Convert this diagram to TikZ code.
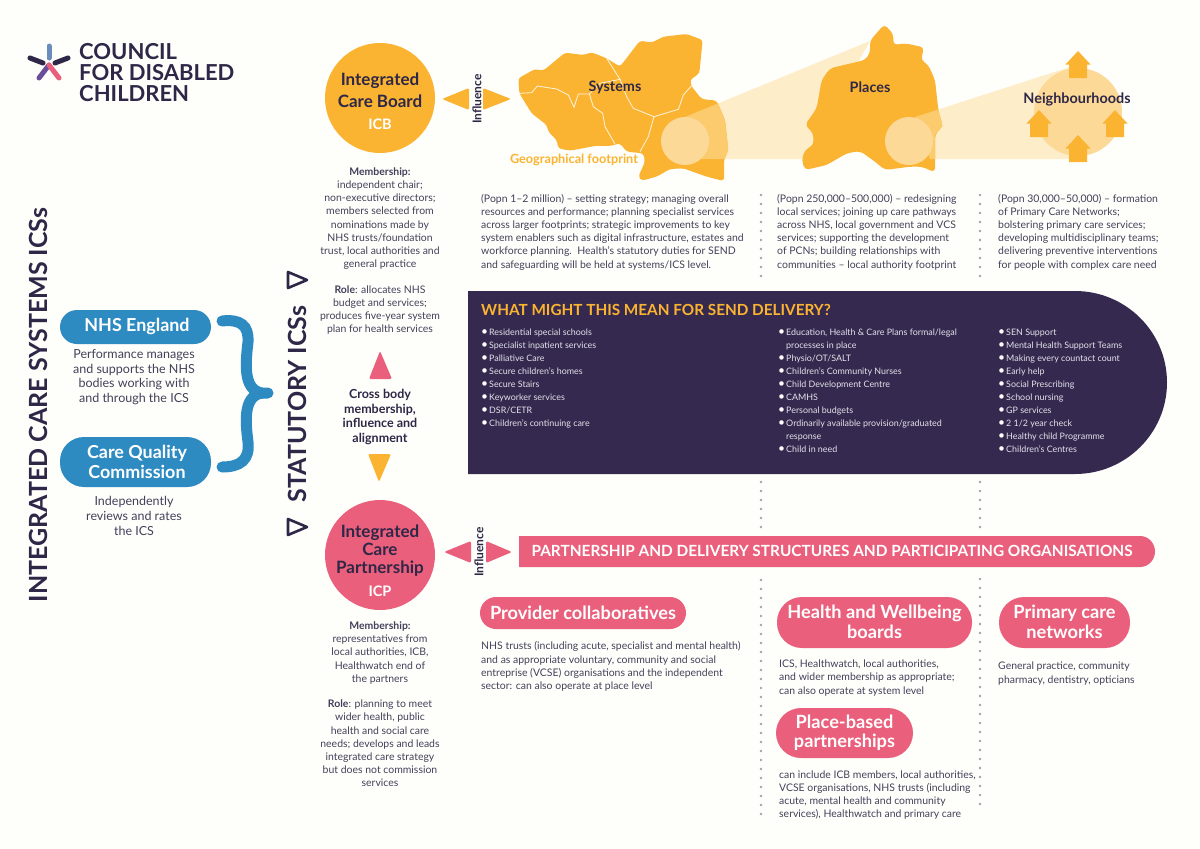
\documentclass[tikz,border=0pt]{standalone}
\usepackage{fontspec}
\setmainfont{Lato}
\definecolor{ink}{HTML}{2F2747}
\definecolor{bodyc}{HTML}{45405A}
\definecolor{orangec}{HTML}{FBB431}
\definecolor{midc}{HTML}{FCCB6E}
\definecolor{lightc}{HTML}{FDEDC9}
\definecolor{circc}{HTML}{FDD998}
\definecolor{pinkc}{HTML}{EA5F7B}
\definecolor{bluec}{HTML}{2E8BC2}
\definecolor{panelc}{HTML}{35294F}
\definecolor{dotc}{HTML}{A5A2AC}
\definecolor{listc}{HTML}{E4E2EA}
\definecolor{paperc}{HTML}{FEFEFB}
\definecolor{logoblue}{HTML}{6A8DBE}
\definecolor{logopurple}{HTML}{6B4E9B}
\newcommand{\fz}[2]{\fontsize{#1}{#2}\selectfont}
\newcommand{\bul}{\makebox[8pt][l]{\textcolor{white}{\large\textbullet}}}
\newcommand{\ind}{\hspace*{8pt}}
\tikzset{
  x=1pt,y=-1pt,
  txt/.style={inner sep=0pt,text=bodyc,font=\fz{10.45}{13.2}},
  leftblock/.style={txt,anchor=west,align=left},
  midblock/.style={txt,anchor=center,align=center},
  listblock/.style={inner sep=0pt,anchor=north west,align=left,text=listc,font=\fz{8.9}{13}},
  pilltext/.style={inner sep=0pt,text=white,font=\fz{18.2}{19.5}\bfseries,align=center},
  circtext/.style={inner sep=0pt,text=ink,font=\fz{17}{18}\bfseries,align=center},
  bigrot/.style={inner sep=0pt,text=ink,rotate=90,font=\fz{25}{27}\bfseries},
  inflabel/.style={inner sep=0pt,text=ink,rotate=90,font=\fz{12}{13}\bfseries},
  maplabel/.style={inner sep=0pt,text=ink,font=\fz{14.4}{16}\bfseries},
  tri/.style={rounded corners=1.5pt},
  pill/.style={rounded corners=#1},
  mapline/.style={white!85!orangec,line width=0.8pt},
}
\def\sysoutline{(265,175)--(315,147)--(340,152)--(405,98)--(460,105)--(485,97)--(530,115)--(570,140)--(630,62)--(665,68)--(700,50)--(770,42)--(818,60)--(808,160)--(780,180)--(785,200)--(815,237)--(860,242)--(885,300)--(895,390)--(882,420)--(882,483)--(830,470)--(760,445)--(720,447)--(680,470)--(635,482)--(625,470)--(645,425)--(640,400)--(590,395)--(570,370)--(540,378)--(500,377)--(420,392)--(385,385)--(380,360)--(355,335)--(350,315)--(305,280)--(268,220)--cycle}
\def\plaoutline{(403,13)--(430,42)--(430,75)--(465,70)--(522,82)--(513,120)--(535,135)--(555,180)--(565,270)--(578,318)--(555,345)--(555,457)--(515,440)--(480,440)--(405,450)--(375,425)--(330,393)--(290,400)--(230,435)--(165,450)--(155,420)--(165,390)--(190,375)--(190,340)--(165,315)--(200,265)--(215,180)--(240,145)--(345,120)--(360,100)--(360,62)--cycle}
\begin{document}
\begin{tikzpicture}
\useasboundingbox (0,0) rectangle (1200,849);
\fill[paperc] (0,0) rectangle (1200,849);
% logo
\begin{scope}[line width=5pt,line cap=round]
\draw[logoblue] (49,46)--(49,58);
\draw[ink] (30,58)--(43,63);
\draw[ink] (68,58)--(55,63);
\draw[logopurple] (39,78)--(49,65);
\draw[pinkc] (59,78)--(49,65);
\end{scope}
\node[inner sep=0pt,anchor=west,align=left,text=ink,font=\fz{22}{21}\bfseries] (logotext) at (79,73) {COUNCIL\\FOR DISABLED\\CHILDREN};
% side titles
\node[bigrot] (ics) at (38,405) {INTEGRATED CARE SYSTEMS ICSs};
\node[bigrot] (stat) at (297,404) {STATUTORY ICSs};
\draw[ink,line width=2.6pt,line join=round] (288,272)--(307,280)--(288,288)--cycle;
\draw[ink,line width=2.6pt,line join=round] (288,519)--(307,527)--(288,535)--cycle;
% left pills
\fill[bluec,pill=17pt] (60,310) rectangle (211,344);
\node[pilltext,font=\fz{17.9}{20}\bfseries] (nhs) at (137,326.5) {NHS England};
\fill[bluec,pill=24pt] (60,437) rectangle (211,487);
\node[pilltext,font=\fz{17.9}{20}\bfseries] (cqc) at (137,462) {Care Quality\\Commission};
\node[midblock,font=\fz{12.5}{14.6}] (nhst) at (134,377) {Performance manages\\and supports the NHS\\bodies working with\\and through the ICS};
\node[midblock,font=\fz{12.5}{14.6}] (cqct) at (134,516) {Independently\\reviews and rates\\the ICS};
\draw[bluec,line width=11pt,line cap=round] (222,321) .. controls (240,319) and (249,325) .. (248,342) .. controls (246,360) and (242,390) .. (262,393) -- (268,393);
\draw[bluec,line width=11pt,line cap=round] (262,393) .. controls (242,396) and (246,425) .. (248,442) .. controls (250,460) and (240,467) .. (222,467);
% ICB
\node[circle,fill=orangec,minimum size=110pt,inner sep=0pt] (icb) at (380,98) {};
\node[circtext] (icbt) at (380,90) {Integrated\\[4pt]Care Board};
\node[inner sep=0pt,text=white,font=\fz{14.5}{16}\bfseries] (icbs) at (380,124) {ICB};
\node[midblock] (icbm) at (380,218.5) {\textbf{Membership:}\\independent chair;\\non-executive directors;\\members selected from\\nominations made by\\NHS trusts/foundation\\trust, local authorities and\\general practice};
\node[midblock] (icbr) at (380,310) {\textbf{Role}: allocates NHS\\budget and services;\\produces five-year system\\plan for health services};
\fill[orangec,tri] (442,99)--(469,88)--(469,110)--cycle;
\fill[orangec,tri] (483,88)--(511,99)--(483,110)--cycle;
\node[inflabel] (inf1) at (477,99) {Influence};
% map cones
\fill[lightc] (685,117)--(870,41)--(803,159)--(685,159)--cycle;
\fill[lightc] (915,117)--(1070,67)--(1073,159)--(930,159)--cycle;
\begin{scope}[shift={(430,20)},scale=0.33333]
\fill[orangec,rounded corners=3pt] \sysoutline;
\begin{scope}
\clip \sysoutline;
\fill[midc] (765,291)--(1320,63)--(1119,417)--(765,417)--cycle;
\end{scope}
\draw[mapline] (268,220)--(305,218)--(322,198)--(380,207)--(415,225)--(432,262)--(445,222)--(478,222)--(490,260)--(518,280)--(525,320)--(555,372);
\draw[mapline] (530,115)--(570,178)--(510,190)--(478,222);
\draw[mapline] (570,178)--(590,230)--(610,265)--(672,290)--(745,268)--(760,225)--(785,197);
\draw[mapline] (672,290)--(655,350)--(630,395);
\end{scope}
\fill[circc] (685,141) circle[radius=24];
\begin{scope}[shift={(750,20)},scale=0.33333]
\fill[orangec,rounded corners=4pt] \plaoutline;
\begin{scope}
\clip \plaoutline;
\fill[midc] (495,291)--(960,141)--(969,417)--(540,417)--cycle;
\end{scope}
\end{scope}
\fill[circc] (909,141) circle[radius=24];
\fill[circc] (1078,112) circle[radius=44];
\foreach \hx/\hy in {1078/51,1039/110,1115/110,1078/135}{
  \fill[orangec] (\hx,\hy)--(\hx+12.5,\hy+13.5)--(\hx+9,\hy+13.5)--(\hx+9,\hy+27)--(\hx-9,\hy+27)--(\hx-9,\hy+13.5)--(\hx-12.5,\hy+13.5)--cycle;
}
\node[maplabel] (sys) at (615,87) {Systems};
\node[maplabel] (pla) at (870,87) {Places};
\node[maplabel] (nei) at (1077,99) {Neighbourhoods};
\node[inner sep=0pt,text=orangec,font=\fz{12.7}{14}\bfseries] (geo) at (574,160) {Geographical footprint};
% population texts
\node[leftblock] (popa) at (481,232) {(Popn 1--2 million) -- setting strategy; managing overall\\resources and performance; planning specialist services\\across larger footprints; strategic improvements to key\\system enablers such as digital infrastructure, estates and\\workforce planning.\ \ Health’s statutory duties for SEND\\and safeguarding will be held at systems/ICS level.};
\node[leftblock] (popb) at (777,232) {(Popn 250,000--500,000) -- redesigning\\local services; joining up care pathways\\across NHS, local government and VCS\\services; supporting the development\\of PCNs; building relationships with\\communities -- local authority footprint};
\node[leftblock] (popc) at (998,232) {(Popn 30,000--50,000) -- formation\\of Primary Care Networks;\\bolstering primary care services;\\developing multidisciplinary teams;\\delivering preventive interventions\\for people with complex care need};
% dots
\foreach \dy in {195,204,...,280,482,491,...,530,580,589,...,815}{
  \fill[dotc] (761,\dy) circle[radius=1.3];
}
\foreach \dy in {195,204,...,280,482,491,...,530,579,588,...,812}{
  \fill[dotc] (980,\dy) circle[radius=1.3];
}
% panel
\fill[panelc] (468,291)--(1075,291) arc[start angle=90,end angle=0,x radius=92,y radius=-91.5] arc[start angle=0,end angle=-90,x radius=92,y radius=-91.5]--(468,474)--cycle;
\node[inner sep=0pt,anchor=west,text=orangec,font=\fz{15.3}{18}\bfseries] (what) at (481,310) {WHAT MIGHT THIS MEAN FOR SEND DELIVERY?};
\node[listblock] (lista) at (481,329) {\bul Residential special schools\\\bul Specialist inpatient services\\\bul Palliative Care\\\bul Secure children’s homes\\\bul Secure Stairs\\\bul Keyworker services\\\bul DSR/CETR\\\bul Children’s continuing care};
\node[listblock] (listb) at (778,329) {\bul Education, Health \& Care Plans formal/legal\\\ind processes in place\\\bul Physio/OT/SALT\\\bul Children’s Community Nurses\\\bul Child Development Centre\\\bul CAMHS\\\bul Personal budgets\\\bul Ordinarily available provision/graduated\\\ind response\\\bul Child in need};
\node[listblock] (listc) at (998,329) {\bul SEN Support\\\bul Mental Health Support Teams\\\bul Making every countact count\\\bul Early help\\\bul Social Prescribing\\\bul School nursing\\\bul GP services\\\bul 2 1/2 year check\\\bul Healthy child Programme\\\bul Children’s Centres};
% cross body
\fill[pinkc,tri] (380,351)--(392,379)--(369,379)--cycle;
\node[midblock,text=ink,font=\fz{12.5}{14.6}\bfseries] (cross) at (380,417) {Cross body\\membership,\\influence and\\alignment};
\fill[orangec,tri] (368,454)--(391,454)--(379,482)--cycle;
% ICP
\node[circle,fill=pinkc,minimum size=110pt,inner sep=0pt] (icp) at (380,555) {};
\node[circtext] (icpt) at (380,551) {Integrated\\Care\\Partnership};
\node[inner sep=0pt,text=white,font=\fz{14.5}{16}\bfseries] (icps) at (380,591) {ICP};
\node[midblock] (icpm) at (380,653) {\textbf{Membership:}\\representatives from\\local authorities, ICB,\\Healthwatch end of\\the partners};
\node[midblock] (icpr) at (380,743.5) {\textbf{Role}: planning to meet\\wider health, public\\health and social care\\needs; develops and leads\\integrated care strategy\\but does not commission\\services};
\fill[pinkc,tri] (444,552)--(471,541)--(471,563)--cycle;
\fill[pinkc,tri] (486,541)--(512,552)--(486,563)--cycle;
\node[inflabel] (inf2) at (479,552) {Influence};
% partnership bar
\fill[pinkc] (519,536)--(1140,536) arc[start angle=90,end angle=-90,x radius=15,y radius=-15.5]--(519,567)--cycle;
\node[inner sep=0pt,text=white,font=\fz{15.4}{17}\bfseries] (bar) at (832,551) {PARTNERSHIP AND DELIVERY STRUCTURES AND PARTICIPATING ORGANISATIONS};
% lower pills
\fill[pinkc,pill=16pt] (480,597) rectangle (686,629);
\node[pilltext] (prov) at (583,612.5) {Provider collaboratives};
\fill[pinkc,pill=25pt] (777,597) rectangle (972,648);
\node[pilltext] (hwb) at (874.5,622) {Health and Wellbeing\\boards};
\fill[pinkc,pill=25pt] (999,597) rectangle (1130,648);
\node[pilltext] (pcn) at (1064.5,622) {Primary care\\networks};
\fill[pinkc,pill=25pt] (776,708) rectangle (913,758);
\node[pilltext] (pbp) at (844.5,733) {Place-based\\partnerships};
\node[leftblock] (provt) at (481,666.5) {NHS trusts (including acute, specialist and mental health)\\and as appropriate voluntary, community and social\\entreprise (VCSE) organisations and the independent\\sector: can also operate at place level};
\node[leftblock] (hwbt) at (779,678) {ICS, Healthwatch, local authorities,\\and wider membership as appropriate;\\can also operate at system level};
\node[leftblock] (pcnt) at (998,673.5) {General practice, community\\pharmacy, dentistry, opticians};
\node[leftblock] (pbpt) at (779,795) {can include ICB members, local authorities,\\VCSE organisations, NHS trusts (including\\acute, mental health and community\\services), Healthwatch and primary care};
\end{tikzpicture}
\end{document}
